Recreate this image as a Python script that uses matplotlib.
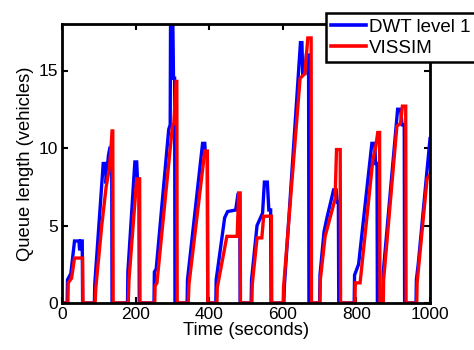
import matplotlib
matplotlib.use("Agg")
import matplotlib.pyplot as plt

plt.rcParams['font.family'] = ['Liberation Sans', 'DejaVu Sans']

# DWT level 1 polyline vertices: time (s), queue length (vehicles)
dwt_t = [0, 14, 15, 24, 34, 46, 48, 50, 55, 56,
         88, 89, 112, 118, 120, 126, 130, 135, 136,
         178, 179, 198, 203, 205, 209, 210,
         250, 251, 256, 290, 294, 295, 301, 303, 306, 307,
         340, 341, 382, 388, 390, 395, 396,
         418, 419, 442, 450, 472, 478, 483, 484,
         514, 515, 530, 545, 550, 558, 562, 567, 568,
         603, 604, 648, 652, 654, 660, 664, 670, 671,
         700, 701, 712, 720, 738, 745, 748, 751, 752,
         794, 795, 806, 842, 850, 852, 856, 857,
         872, 873, 912, 920, 924, 930, 931,
         962, 963, 968, 1000]
dwt_v = [0, 0, 1.5, 1.9, 4.0, 4.0, 3.4, 4.0, 4.0, 0,
         0, 1.2, 9.0, 9.0, 7.7, 9.5, 10.0, 10.0, 0,
         0, 2.0, 9.1, 9.1, 8.0, 8.0, 0,
         0, 2.0, 2.2, 11.2, 11.5, 18.5, 18.5, 14.5, 14.5, 0,
         0, 1.5, 10.3, 10.3, 9.5, 9.5, 0,
         0, 1.5, 5.5, 5.9, 6.0, 7.0, 7.0, 0,
         0, 1.5, 5.0, 5.8, 7.8, 7.8, 6.0, 6.0, 0,
         0, 1.0, 16.8, 16.8, 14.8, 14.8, 16.0, 16.0, 0,
         0, 1.8, 4.6, 5.5, 7.3, 7.3, 6.5, 6.5, 0,
         0, 1.8, 2.5, 10.3, 10.3, 9.0, 9.0, 0,
         0, 2.0, 12.5, 12.5, 11.5, 11.5, 0,
         0, 1.5, 2.5, 10.6]

# VISSIM polyline vertices
vis_t = [0, 16, 17, 26, 34, 56, 57,
         90, 92, 108, 120, 128, 132, 136, 138, 139,
         180, 182, 203, 211, 212,
         252, 253, 258, 300, 304, 310, 312, 313,
         343, 345, 388, 395, 396,
         421, 422, 448, 476, 480, 484, 485,
         516, 517, 530, 543, 548, 569, 570,
         601, 602, 647, 660, 668, 677, 678,
         701, 702, 715, 742, 746, 756, 757,
         796, 797, 810, 845, 852, 858, 863, 864,
         873, 874, 910, 920, 925, 934, 935,
         964, 965, 992, 1000]
vis_v = [0, 0, 1.3, 1.6, 2.9, 2.9, 0,
         0, 1.0, 5.0, 7.5, 8.6, 9.6, 11.1, 11.1, 0,
         0, 1.5, 8.0, 8.0, 0,
         0, 1.1, 1.3, 11.4, 11.6, 14.3, 14.3, 0,
         0, 1.2, 9.8, 9.8, 0,
         0, 1.0, 4.3, 4.3, 7.1, 7.1, 0,
         0, 1.2, 4.2, 4.2, 5.6, 5.6, 0,
         0, 1.0, 14.5, 14.8, 17.1, 17.1, 0,
         0, 1.5, 4.3, 6.7, 9.9, 9.9, 0,
         0, 1.3, 1.3, 9.3, 10.0, 11.0, 11.0, 0,
         0, 1.5, 11.4, 11.6, 12.7, 12.7, 0,
         0, 1.3, 8.0, 8.3]

x_ticks = [0, 200, 400, 600, 800, 1000]
y_ticks = [0, 5, 10, 15]

fig = plt.figure(figsize=(4.74, 3.5), dpi=100)
ax = fig.add_axes([62/474, 47/350, 368/474, 279/350])

ax.plot(dwt_t, dwt_v, color='#0000ff', lw=2.4, label='DWT level 1',
        solid_joinstyle='miter')
ax.plot(vis_t, vis_v, color='#ff0000', lw=2.4, label='VISSIM',
        solid_joinstyle='miter')

ax.set_xlim(0, 1000)
ax.set_ylim(0, 18)
ax.set_xticks(x_ticks)
ax.set_yticks(y_ticks)
ax.tick_params(direction='in', top=True, right=True, length=4, width=1.5,
               labelsize=12.5, pad=3)
for s in ax.spines.values():
    s.set_linewidth(2)
ax.set_xlabel('Time (seconds)', fontsize=13.2, labelpad=0)
ax.set_ylabel('Queue length (vehicles)', fontsize=13.2, labelpad=3)

leg = ax.legend(loc='upper right', bbox_to_anchor=(476/474, 1 - 13/350),
                bbox_transform=fig.transFigure, borderaxespad=0,
                fontsize=13.5, handlelength=1.85, handletextpad=0.15,
                labelspacing=0.2, borderpad=0.3, fancybox=False,
                framealpha=1, edgecolor='black')
leg.get_frame().set_linewidth(1.8)
for line in leg.get_lines():
    line.set_linewidth(2.6)

fig.savefig('out.png', dpi=100)
